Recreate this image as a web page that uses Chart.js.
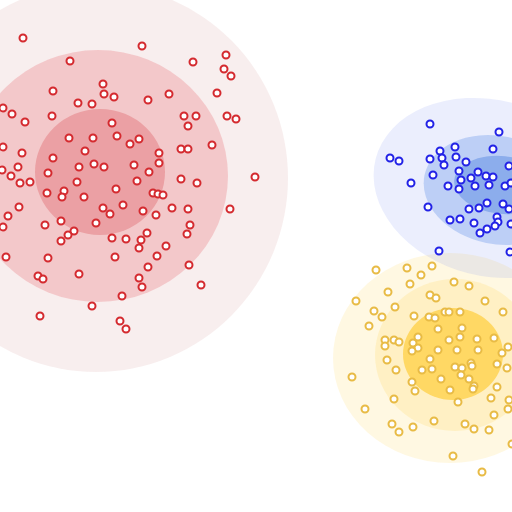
<!DOCTYPE html>
<html lang="en">
<head>
    <meta charset="UTF-8">
    <title>Clusters</title>
    <script src="https://cdn.jsdelivr.net/npm/chart.js"></script>
    <style>
        body { margin: 0; padding: 0; background: #ffffff; }
        #wrap { width: 512px; height: 512px; }
    </style>
</head>
<body>
    <div id="wrap"><canvas id="chart" width="512" height="512"></canvas></div>
    <script>
        // points (x, y)
        const redPoints = [
            [23,38],[142,46],[70,61],[226,55],[193,62],[224,69],[231,76],[217,93],
            [103,84],[104,94],[114,97],[53,91],[78,103],[92,104],[148,100],[169,94],
            [3,108],[12,114],[25,122],[52,116],[112,123],[184,116],[196,116],[188,126],
            [227,116],[236,119],[69,138],[93,138],[117,136],[130,144],[139,139],[3,147],
            [22,153],[85,151],[181,149],[188,149],[212,145],[255,177],[53,158],[159,153],
            [159,163],[2,170],[18,167],[11,176],[20,183],[30,182],[48,173],[79,167],
            [94,164],[104,167],[134,165],[149,172],[77,182],[137,181],[181,179],[197,183],
            [116,189],[47,193],[64,191],[62,197],[153,193],[158,194],[163,195],[84,197],
            [19,207],[103,208],[123,205],[110,214],[143,211],[156,215],[172,208],[188,209],
            [230,209],[8,216],[3,227],[45,225],[61,221],[96,223],[190,225],[187,234],
            [74,231],[68,235],[61,241],[112,238],[126,239],[147,233],[141,240],[139,248],
            [166,246],[157,256],[6,257],[48,258],[115,257],[148,267],[189,265],[38,276],
            [43,279],[79,274],[139,278],[142,287],[201,285],[122,296],[92,306],[40,316],
            [120,321],[126,329]
        ];
        const bluePoints = [
            [430,124],[499,132],[390,158],[399,161],[411,183],[430,159],[440,151],[442,158],
            [444,165],[455,147],[456,157],[466,162],[493,149],[509,166],[433,175],[459,171],
            [478,172],[486,176],[493,177],[461,180],[471,178],[448,186],[459,189],[475,186],
            [489,185],[505,186],[511,183],[428,207],[469,209],[479,208],[487,203],[503,204],
            [509,209],[450,220],[460,219],[474,223],[497,217],[498,222],[495,226],[487,229],
            [480,233],[511,224],[439,251],[510,252]
        ];
        const yellowPoints = [
            [376,270],[407,268],[432,266],[421,275],[410,284],[356,301],[388,292],[454,282],
            [469,286],[430,295],[436,298],[485,301],[503,312],[374,311],[382,317],[395,307],
            [414,316],[369,326],[429,317],[435,318],[445,312],[449,312],[460,312],[438,329],
            [462,328],[460,337],[477,339],[494,338],[449,340],[385,340],[385,346],[394,340],
            [399,342],[413,343],[418,337],[418,348],[412,351],[438,350],[457,350],[478,350],
            [502,353],[508,347],[387,360],[430,359],[396,370],[422,370],[432,369],[455,367],
            [462,368],[471,363],[472,366],[497,364],[507,368],[352,377],[441,379],[461,375],
            [469,379],[412,382],[415,391],[450,390],[474,386],[473,389],[497,387],[458,402],
            [491,398],[509,400],[394,399],[365,409],[434,421],[494,415],[508,409],[392,424],
            [399,432],[413,427],[465,424],[474,429],[489,430],[512,444],[453,456],[482,472]
        ];

        // density rings: centre x, centre y, radius x, radius y, tilt (rad)
        const redRings = [[96,178,192,194,0],[98,176,130,126,0],[100,172,65,63,0]];
        const blueRings = [[490,188,118,88,0.25],[497,190,74,54,0.2],[502,185,48,29,0.1]];
        const yellowRings = [[450,358,117,105,0],[455,355,80,76,0],[453,354,50,46,0]];

        const ringColors = {
            red: ['rgba(190,90,90,0.10)', 'rgba(236,140,145,0.38)', 'rgba(222,100,105,0.40)'],
            blue: ['rgba(110,135,240,0.14)', 'rgba(120,160,235,0.40)', 'rgba(80,130,225,0.45)'],
            yellow: ['rgba(255,220,110,0.20)', 'rgba(255,225,140,0.35)', 'rgba(255,205,60,0.7)']
        };

        const ringsPlugin = {
            id: 'rings',
            beforeDatasetsDraw(chart) {
                const { ctx, scales: { x, y } } = chart;
                const groups = [[yellowRings, ringColors.yellow], [blueRings, ringColors.blue], [redRings, ringColors.red]];
                ctx.save();
                groups.forEach(([rings, colors]) => {
                    rings.forEach((r, i) => {
                        const cx = x.getPixelForValue(r[0]);
                        const cy = y.getPixelForValue(r[1]);
                        const rx = Math.abs(x.getPixelForValue(r[0] + r[2]) - cx);
                        const ry = Math.abs(y.getPixelForValue(r[1] + r[3]) - cy);
                        ctx.beginPath();
                        ctx.ellipse(cx, cy, rx, ry, r[4], 0, Math.PI * 2);
                        ctx.fillStyle = colors[i];
                        ctx.fill();
                    });
                });
                ctx.restore();
            }
        };

        const toXY = arr => arr.map(p => ({ x: p[0], y: p[1] }));
        const pointStyle = color => ({
            backgroundColor: '#ffffff',
            borderColor: color,
            borderWidth: 2,
            pointRadius: 3.5
        });

        new Chart(document.getElementById('chart'), {
            type: 'scatter',
            data: {
                datasets: [
                    { label: 'yellow', data: toXY(yellowPoints), ...pointStyle('#e8bb45') },
                    { label: 'blue', data: toXY(bluePoints), ...pointStyle('#2222e6') },
                    { label: 'red', data: toXY(redPoints), ...pointStyle('#d42a2f') }
                ]
            },
            options: {
                responsive: false,
                animation: false,
                layout: { padding: 0, autoPadding: false },
                plugins: { legend: { display: false }, tooltip: { enabled: false } },
                scales: {
                    x: { type: 'linear', min: 0, max: 512, display: false },
                    y: { type: 'linear', min: 0, max: 512, reverse: true, display: false }
                }
            },
            plugins: [ringsPlugin]
        });
    </script>
</body>
</html>
